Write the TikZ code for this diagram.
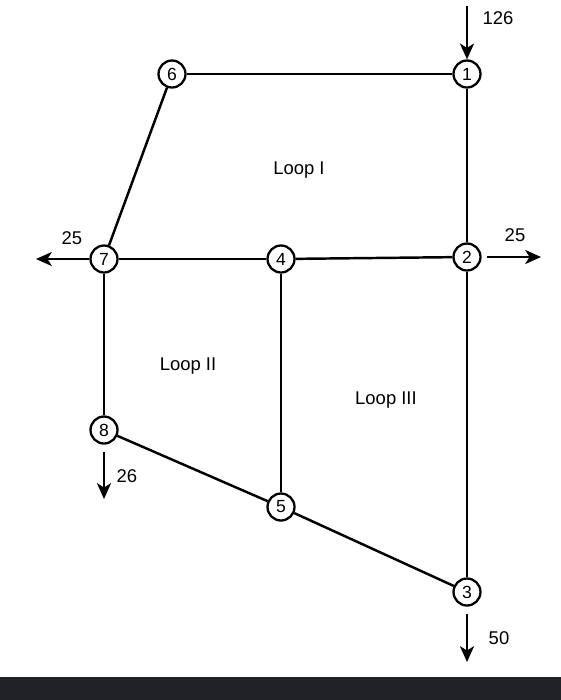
\documentclass[tikz,border=0pt]{standalone}
\usepackage{fontspec}
\setmainfont{Liberation Sans}
\usepackage{tikz}
\usetikzlibrary{arrows.meta, positioning}
\definecolor{bandgray}{RGB}{32,33,36}
\tikzset{
  junction/.style={draw, line width=1.3pt, circle, fill=white, minimum size=0.54cm, inner sep=0pt, font=\fontsize{10}{11}\selectfont},
  pipe/.style={line width=1.4pt},
  flow/.style={line width=1.4pt, -{Stealth[length=9pt, width=8pt, inset=2.5pt]}},
  lbl/.style={font=\fontsize{10.5}{12}\selectfont}
}
\begin{document}
\begin{tikzpicture}[x=0.02cm, y=-0.02cm]
            % page frame and dark band at the bottom
            \useasboundingbox (0,0) rectangle (561,700);
            \fill[white] (0,0) rectangle (561,700);
            \fill[bandgray] (0,677) rectangle (561,700);

            % junctions
            \node[junction] (n1) at (467,74) {1};
            \node[junction] (n2) at (467,257) {2};
            \node[junction] (n3) at (467,592) {3};
            \node[junction] (n4) at (281,259) {4};
            \node[junction] (n5) at (281,507) {5};
            \node[junction] (n6) at (172,74) {6};
            \node[junction] (n7) at (104,259) {7};
            \node[junction] (n8) at (104,430) {8};

            % pipes
            \draw[pipe] (n6) -- (n1);
            \draw[pipe] (n1) -- (n2);
            \draw[pipe] (n6) -- (n7);
            \draw[pipe] (n7) -- (n4);
            \draw[pipe] (n4) -- (n2);
            \draw[pipe] (n7) -- (n8);
            \draw[pipe] (n4) -- (n5);
            \draw[pipe] (n2) -- (n3);
            \draw[pipe] (n8) -- (n5);
            \draw[pipe] (n5) -- (n3);

            % inflow and outflows
            \coordinate (in1) at (467,6);
            \coordinate (out7) at (36,259);
            \coordinate (out2) at (541,257);
            \coordinate (out8) at (104,499);
            \coordinate (out3) at (467,662);
            \draw[flow] (in1) -- (n1);
            \draw[flow] (n7) -- (out7);
            \draw[flow] ([xshift=3pt]n2.east) -- (out2);
            \draw[flow] ([yshift=-4pt]n8.south) -- (out8);
            \draw[flow] ([yshift=-4pt]n3.south) -- (out3);

            \node[lbl] at (498,18) {126};
            \node[lbl] at (72,238) {25};
            \node[lbl] at (515,235) {25};
            \node[lbl] at (127,476) {26};
            \node[lbl] at (499,638) {50};

            % loop names
            \node[lbl] at (299,170) {Loop I};
            \node[lbl] at (188,366) {Loop II};
            \node[lbl] at (386,400) {Loop III};
        \end{tikzpicture}
\end{document}
